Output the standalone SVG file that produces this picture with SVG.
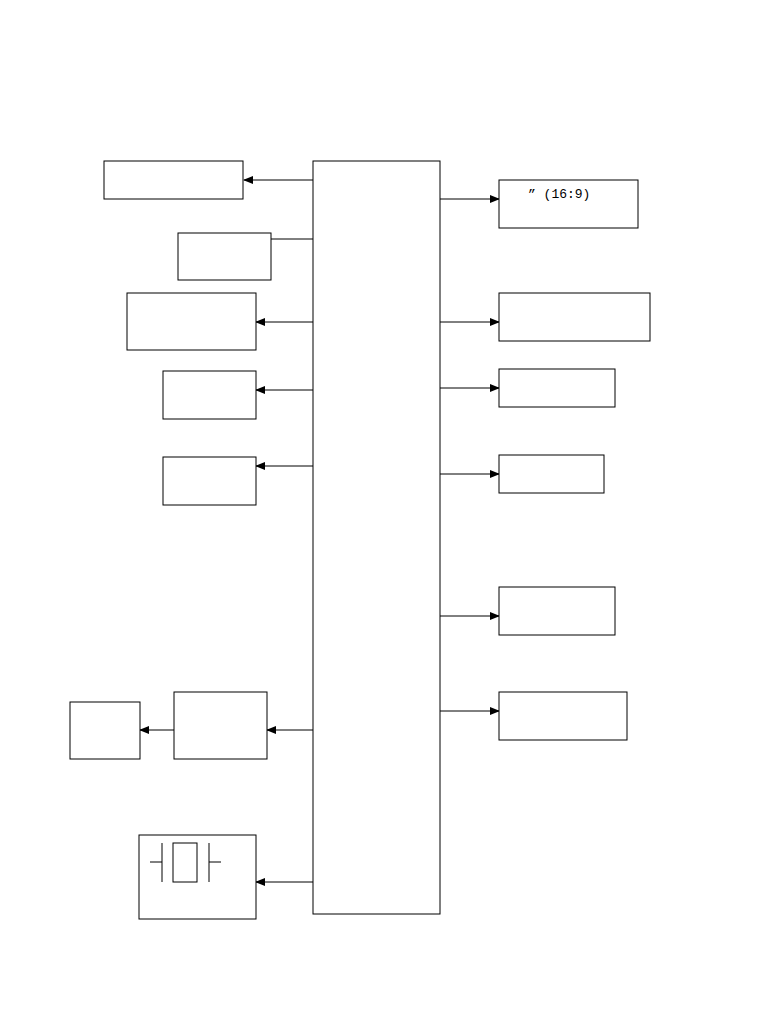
<svg xmlns="http://www.w3.org/2000/svg" width="768" height="1024" viewBox="0 0 768 1024">
<style>
.b{fill:#fff;stroke:#000;stroke-width:1}
.c{stroke:#000;stroke-width:1;fill:none}
text{font-family:"Liberation Mono",monospace;font-size:13px}
</style>
<defs><marker id="a" markerWidth="10" markerHeight="8" refX="9" refY="4" orient="auto" markerUnits="userSpaceOnUse"><path d="M0,0L10,4L0,8z"/></marker></defs>
<rect width="768" height="1024" fill="#fff"/>
<g id="connectors" class="c">
<line x1="313" y1="180" x2="244" y2="180" marker-end="url(#a)"/>
<line x1="313" y1="239" x2="271" y2="239"/>
<line x1="313" y1="322" x2="256" y2="322" marker-end="url(#a)"/>
<line x1="313" y1="390" x2="256" y2="390" marker-end="url(#a)"/>
<line x1="313" y1="466" x2="256" y2="466" marker-end="url(#a)"/>
<line x1="313" y1="730" x2="267" y2="730" marker-end="url(#a)"/>
<line x1="174" y1="730" x2="140" y2="730" marker-end="url(#a)"/>
<line x1="313" y1="882" x2="256" y2="882" marker-end="url(#a)"/>
<line x1="440" y1="199" x2="499" y2="199" marker-end="url(#a)"/>
<line x1="440" y1="322" x2="499" y2="322" marker-end="url(#a)"/>
<line x1="440" y1="388" x2="499" y2="388" marker-end="url(#a)"/>
<line x1="440" y1="474" x2="499" y2="474" marker-end="url(#a)"/>
<line x1="440" y1="616" x2="499" y2="616" marker-end="url(#a)"/>
<line x1="440" y1="711" x2="499" y2="711" marker-end="url(#a)"/>
</g>
<g id="main"><rect class="b" x="313" y="161" width="127" height="753"/></g>
<g id="l1"><rect class="b" x="104" y="161" width="139" height="38"/></g>
<g id="l2"><rect class="b" x="178" y="233" width="93" height="47"/></g>
<g id="l3"><rect class="b" x="127" y="293" width="129" height="57"/></g>
<g id="l4"><rect class="b" x="163" y="371" width="93" height="48"/></g>
<g id="l5"><rect class="b" x="163" y="457" width="93" height="48"/></g>
<g id="l6"><rect class="b" x="174" y="692" width="93" height="67"/></g>
<g id="l7"><rect class="b" x="70" y="702" width="70" height="57"/></g>
<g id="xtal"><rect class="b" x="139" y="835" width="117" height="84"/>
<g class="c"><line x1="150" y1="862" x2="162" y2="862"/><line x1="162" y1="843" x2="162" y2="882"/><rect x="173" y="843" width="24" height="39"/><line x1="209" y1="843" x2="209" y2="882"/><line x1="209" y1="862" x2="221" y2="862"/></g></g>
<g id="r1"><rect class="b" x="499" y="180" width="139" height="48"/><text x="528" y="198">” (16:9)</text></g>
<g id="r2"><rect class="b" x="499" y="293" width="151" height="48"/></g>
<g id="r3"><rect class="b" x="499" y="369" width="116" height="38"/></g>
<g id="r4"><rect class="b" x="499" y="455" width="105" height="38"/></g>
<g id="r5"><rect class="b" x="499" y="587" width="116" height="48"/></g>
<g id="r6"><rect class="b" x="499" y="692" width="128" height="48"/></g>
</svg>
